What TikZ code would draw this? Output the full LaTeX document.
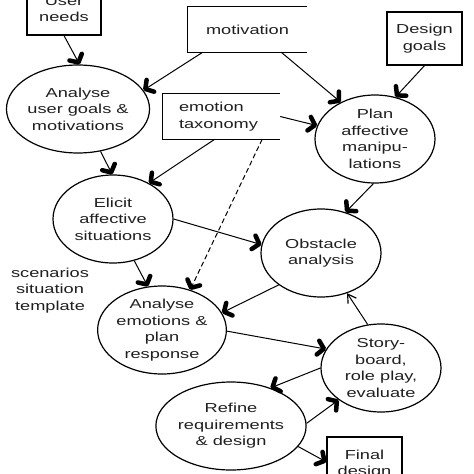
\documentclass[tikz,border=0pt]{standalone}
\usepackage{fontspec}
\setmainfont[FakeStretch=1.4]{Liberation Sans}
\usetikzlibrary{arrows.meta,shapes.geometric,calc}
\begin{document}
\begin{tikzpicture}[x=1pt,y=-1pt,
  every node/.style={font=\fontsize{13}{16.5}\selectfont, text=black!88},
  ell/.style={draw, ellipse, line width=1.2pt, minimum width=120pt, minimum height=88pt, inner sep=0pt, align=center},
  box/.style={draw, line width=1.2pt, align=center, inner sep=0pt},
  store/.style={inner sep=0pt, align=center},
  storeline/.style={line width=1.2pt},
  arr/.style={line width=1pt, -{Straight Barb[length=6pt,width=14pt,line width=4.5pt 0 1,round]}},
  thinarr/.style={line width=1pt, -{Straight Barb[length=8pt,width=10pt,line width=1.2pt 0 1]}},
]
\useasboundingbox (0,0) rectangle (474,474);
\clip (0,0) rectangle (474,474);

\node[box, minimum width=74pt, minimum height=52pt] (un) at (64,9) {User\\needs};
\node[store, minimum width=119pt, minimum height=45pt] (mo) at (247.5,29.5) {motivation};
\node[box, minimum width=75pt, minimum height=53pt] (dg) at (424.5,38.5) {Design\\goals};
\node[ell] (ug) at (78,109) {Analyse\\user goals \&\\motivations};
\node[store, text width=85pt, inner xsep=16pt, minimum height=45pt, align=left] (et) at (221.5,116.5) {emotion\\taxonomy};
\node[ell] (pl) at (375,139) {Plan\\affective\\manipu-\\lations};
\node[ell] (el) at (113,219) {Elicit\\affective\\situations};
\node[ell] (ob) at (321,253) {Obstacle\\analysis};
\node[ell] (ae) at (162,330) {Analyse\\emotions \&\\plan\\response};
\node[ell] (sb) at (381,368) {Story-\\board,\\role play,\\evaluate};
\node[ell] (rf) at (231,426) {Refine\\requirements\\\& design};
\node[box, minimum width=75pt, minimum height=54pt] (fd) at (364.5,464) {Final\\design};
\node[align=center] (sc) at (50,290.5) {scenarios\\situation\\template};

\draw[storeline] (mo.north east) -- (mo.north west) -- (mo.south west) -- (mo.south east);
\draw[storeline] (et.north east) -- (et.north west) -- (et.south west) -- (et.south east);

\draw[arr] (un.south) -- (ug.88);
\draw[arr] ([xshift=15pt]mo.south west) -- (ug.16);
\draw[arr] ([xshift=-26pt]mo.south east) -- (pl.133);
\draw[arr] (dg.south) -- (pl.64);
\draw[arr] (et.east) -- (pl.167);
\draw[arr] ([xshift=52pt]et.south west) -- (el.45);
\draw[arr] (ug.-62) -- (el.91);
\draw[arr] (pl.-92) -- (ob.59);
\draw[arr] (el.0) -- (ob.172);
\draw[arr] (el.-63) -- (ae.108);
\draw[arr, dash pattern=on 5pt off 3pt] ([xshift=-18pt]et.south east) -- (ae.55);
\draw[arr] (ob.-143) -- (ae.16);
\draw[arr] (ae.-1) -- (sb.161);
\draw[arr] (sb.180) -- (rf.44);
\draw[arr] (rf.2) -- (sb.-143);
\draw[arr] (rf.-17) -- ([yshift=2pt]fd.west);
\draw[thinarr] (sb.107) -- (ob.-57);
\end{tikzpicture}
\end{document}
